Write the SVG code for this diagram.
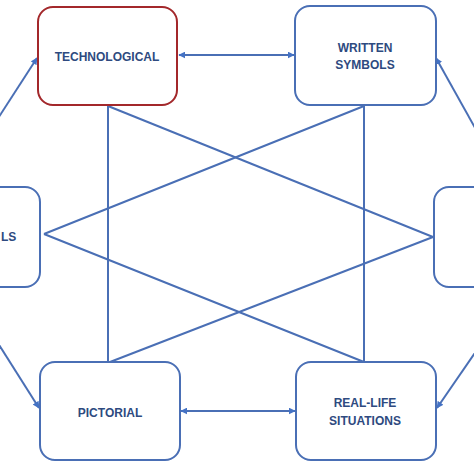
<svg xmlns="http://www.w3.org/2000/svg" width="474" height="474" viewBox="0 0 474 474">
<defs>
<marker id="ah" viewBox="0 0 10 10" refX="9" refY="5" markerWidth="7" markerHeight="7" markerUnits="userSpaceOnUse" orient="auto-start-reverse">
<path d="M0,0 L10,5 L0,10 z" fill="#4472C4"/>
</marker>
<style>
.box{fill:#fff;stroke:#4A6FB5;stroke-width:2}
.red{fill:#fff;stroke:#A3282B;stroke-width:2}
.ln{stroke:#4A6FB5;stroke-width:2;fill:none}
.t{font-family:"Liberation Sans",Arial,sans-serif;font-weight:bold;font-size:12px;fill:#2E4A80;text-anchor:middle}
</style>
</defs>
<rect width="474" height="474" fill="#fff"/>
<g id="connectors">
<line class="ln" x1="108" y1="106" x2="108" y2="362"/>
<line class="ln" x1="364" y1="106" x2="364" y2="362"/>
<line class="ln" x1="108" y1="106" x2="433" y2="237"/>
<line class="ln" x1="433" y1="237" x2="110" y2="362"/>
<line class="ln" x1="364" y1="106" x2="44" y2="234"/>
<line class="ln" x1="44" y1="234" x2="364" y2="362"/>
<line class="ln" x1="179" y1="55" x2="294" y2="55" marker-start="url(#ah)" marker-end="url(#ah)"/>
<line class="ln" x1="181" y1="411" x2="295" y2="411" marker-start="url(#ah)" marker-end="url(#ah)"/>
<line class="ln" x1="-5" y1="123" x2="37" y2="58" marker-end="url(#ah)"/>
<line class="ln" x1="479" y1="135" x2="436" y2="58" marker-end="url(#ah)"/>
<line class="ln" x1="-4" y1="340" x2="39" y2="408" marker-end="url(#ah)"/>
<line class="ln" x1="479" y1="347" x2="437" y2="408" marker-end="url(#ah)"/>
</g>
<g id="technological">
<rect class="red" x="38" y="7" width="139" height="98" rx="15"/>
<text class="t" x="107" y="61">TECHNOLOGICAL</text>
</g>
<g id="written-symbols">
<rect class="box" x="295" y="6" width="141" height="99" rx="15"/>
<text class="t" x="365" y="52">WRITTEN</text>
<text class="t" x="365" y="69">SYMBOLS</text>
</g>
<g id="left-node">
<rect class="box" x="-100" y="187" width="140" height="100" rx="15"/>
<text class="t" x="1" y="241" style="text-anchor:start">LS</text>
</g>
<g id="right-node">
<rect class="box" x="434" y="187" width="140" height="100" rx="15"/>
</g>
<g id="pictorial">
<rect class="box" x="40" y="362" width="140" height="98" rx="15"/>
<text class="t" x="110" y="417">PICTORIAL</text>
</g>
<g id="real-life-situations">
<rect class="box" x="296" y="362" width="140" height="98" rx="15"/>
<text class="t" x="365" y="407">REAL-LIFE</text>
<text class="t" x="365" y="425">SITUATIONS</text>
</g>
</svg>
